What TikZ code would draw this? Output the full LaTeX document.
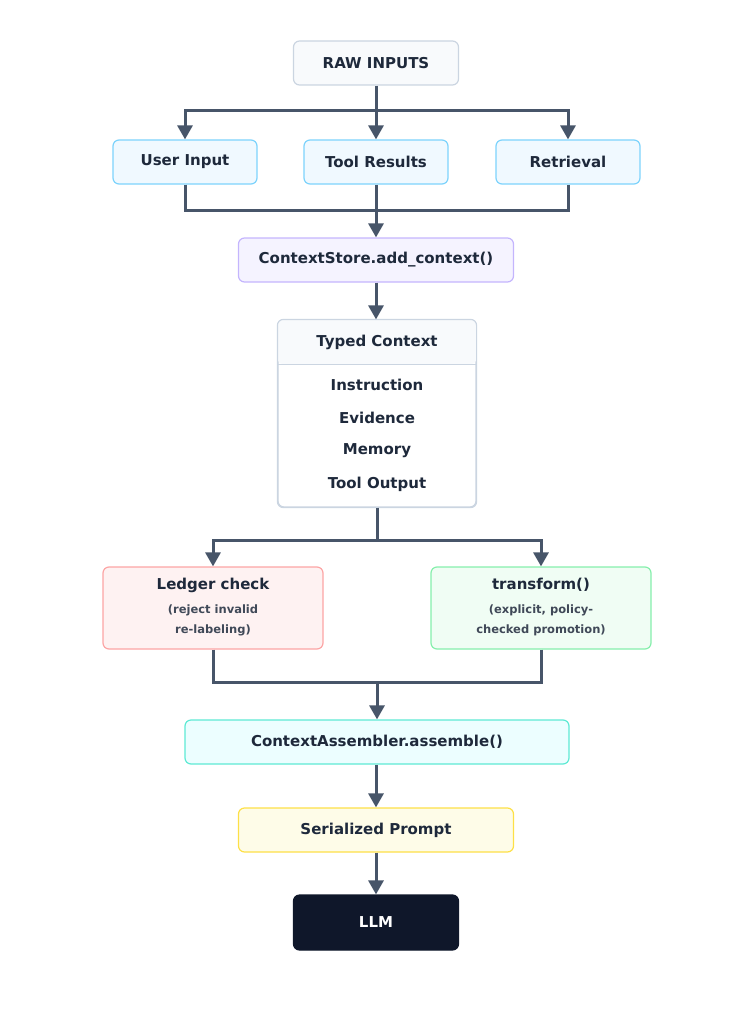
\documentclass[tikz,border=0pt]{standalone}
\usepackage{fontspec}
\setmainfont{DejaVu Sans}
\usetikzlibrary{arrows.meta}
\definecolor{edge}{HTML}{475569}
\definecolor{ink}{HTML}{1E293B}
\definecolor{night}{HTML}{0F172A}
\definecolor{purpleline}{HTML}{C4B5FD}
\definecolor{purplefill}{HTML}{F5F3FF}
\definecolor{blueline}{HTML}{7DD3FC}
\definecolor{bluefill}{HTML}{F0F9FF}
\definecolor{redline}{HTML}{FCA5A5}
\definecolor{redfill}{HTML}{FEF2F2}
\definecolor{greenline}{HTML}{86EFAC}
\definecolor{greenfill}{HTML}{F0FDF4}
\definecolor{tealline}{HTML}{5EEAD4}
\definecolor{tealfill}{HTML}{ECFEFF}
\definecolor{yellowline}{HTML}{FDE047}
\definecolor{yellowfill}{HTML}{FEFCE8}
\definecolor{grayline}{HTML}{CBD5E1}
\definecolor{grayfill}{HTML}{F8FAFC}
\tikzset{
  box/.style={draw=#1, rounded corners=6pt, line width=1.2pt, minimum height=44pt, font=\bfseries\fontsize{15}{17}\selectfont, text=ink},
  label/.style={font=\bfseries\fontsize{15}{17}\selectfont, text=ink},
  sublabel/.style={font=\bfseries\fontsize{11.5}{20}\selectfont, text=ink!85, align=center},
  flow/.style={draw=edge, line width=3pt, -{Triangle[width=15pt,length=14pt]}},
  line/.style={draw=edge, line width=3pt}
}
\begin{document}
\begin{tikzpicture}[x=1pt,y=-1pt]
\useasboundingbox (0,0) rectangle (733,1024);
% inputs
\node[box=grayline, fill=grayfill, minimum width=165pt] (raw) at (376,63) {RAW INPUTS};
\node[box=blueline, fill=bluefill, minimum width=144pt] (user) at (185,162) {User Input};
\node[box=blueline, fill=bluefill, minimum width=144pt] (tool) at (376,162) {Tool Results};
\node[box=blueline, fill=bluefill, minimum width=144pt] (retr) at (568,162) {Retrieval};
\node[box=purpleline, fill=purplefill, minimum width=275pt] (store) at (376,260) {ContextStore.add\_context()};
% typed context
\node[box=grayline, fill=white, minimum width=198pt, minimum height=187pt] (typed) at (377,413.5) {};
\begin{scope}
\clip[rounded corners=6pt] (typed.north west) rectangle (typed.east |- 0,364);
\fill[grayfill] (typed.north west) rectangle (typed.east |- 0,364);
\end{scope}
\draw[grayline, line width=1.2pt, rounded corners=6pt] (typed.north west) rectangle (typed.south east);
\draw[grayline, line width=1pt] (typed.west |- 0,364) -- (typed.east |- 0,364);
\node[label] (thead) at (377,342) {Typed Context};
\foreach \t/\y in {Instruction/385, Evidence/418, Memory/451, Tool Output/484}
  \node[label] at (377,\y) {\t};
% checks
\node[box=redline, fill=redfill, minimum width=220pt, minimum height=82pt] (ledger) at (213,608) {};
\node[label] (ltitle) at (213,585) {Ledger check};
\node[sublabel] (lsub) at (213,620) {(reject invalid\\re-labeling)};
\node[box=greenline, fill=greenfill, minimum width=220pt, minimum height=82pt] (trans) at (541,608) {};
\node[label] (ttitle) at (541,585) {transform()};
\node[sublabel] (tsub) at (541,620) {(explicit, policy-\\checked promotion)};
% output
\node[box=tealline, fill=tealfill, minimum width=384pt] (asm) at (377,742) {ContextAssembler.assemble()};
\node[box=yellowline, fill=yellowfill, minimum width=275pt] (prompt) at (376,830) {Serialized Prompt};
\node[box=night, fill=night, text=white, minimum width=165pt, minimum height=55pt] (llm) at (376,922.5) {LLM};
% connectors
\coordinate (split1) at (376,111);
\draw[line] (raw.south) -- (split1);
\draw[flow] (split1) -- (tool.north);
\draw[flow] (split1) -| (user.north);
\draw[flow] (split1) -| (retr.north);
\coordinate (join1) at (376,211);
\draw[line] (user.south) |- (join1);
\draw[line] (retr.south) |- (join1);
\draw[line] (tool.south) -- (join1);
\draw[flow] (join1) -- (store.north);
\draw[flow] (store.south) -- (typed.north -| store.south);
\coordinate (split2) at (377,540);
\draw[line] (typed.south) -- (split2);
\draw[flow] (split2) -| (ledger.north);
\draw[flow] (split2) -| (trans.north);
\coordinate (join2) at (377,682);
\draw[line] (ledger.south) |- (join2);
\draw[line] (trans.south) |- (join2);
\draw[flow] (join2) -- (asm.north);
\draw[flow] (asm.south -| prompt.north) -- (prompt.north);
\draw[flow] (prompt.south) -- (llm.north);
\end{tikzpicture}
\end{document}
